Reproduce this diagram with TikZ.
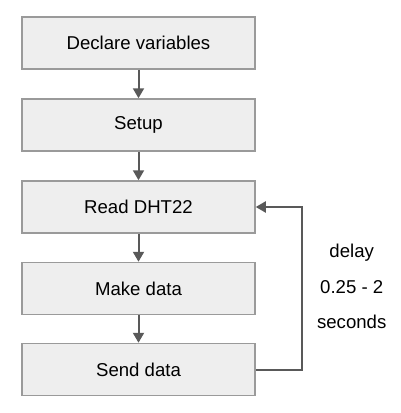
\documentclass[tikz,border=0pt]{standalone}
\usepackage{fontspec}
\setmainfont{Liberation Sans}
\usetikzlibrary{arrows.meta}
\definecolor{boxfill}{HTML}{EEEEEE}
\definecolor{boxline}{HTML}{9A9A9A}
\definecolor{arrowcol}{HTML}{595959}
\begin{document}
\begin{tikzpicture}[x=1pt,y=-1pt,
  stepbox/.style={draw=boxline, line width=1.5pt, fill=boxfill, minimum width=233pt, minimum height=52pt, inner sep=0pt, font=\fontsize{18.6}{22}\selectfont},
  flow/.style={draw=arrowcol, line width=2pt, -{Triangle[length=10pt,width=11pt]}},
  lbl/.style={font=\fontsize{18.6}{22}\selectfont, inner sep=0pt}]
\useasboundingbox (0,0) rectangle (400,413);
\node[stepbox] (b1) at (138.5,43) {Declare variables};
\node[stepbox] (b2) at (138.5,125) {Setup};
\node[stepbox] (b3) at (138.5,207) {Read DHT22};
\node[stepbox] (b4) at (138.5,288.5) {Make data};
\node[stepbox] (b5) at (138.5,369.5) {Send data};
\draw[flow] (b1) -- (b2);
\draw[flow] (b2) -- (b3);
\draw[flow] (b3) -- (b4);
\draw[flow] (b4) -- (b5);
\coordinate (c1) at (302,369.5);
\coordinate (c2) at (302,207);
\draw[flow] (b5.east) -- (c1) -- (c2) -- (b3.east);
\node[lbl] (t1) at (351.7,253) {delay};
\node[lbl] (t2) at (351.7,287) {0.25 - 2};
\node[lbl] (t3) at (351.7,322) {seconds};
\end{tikzpicture}
\end{document}
